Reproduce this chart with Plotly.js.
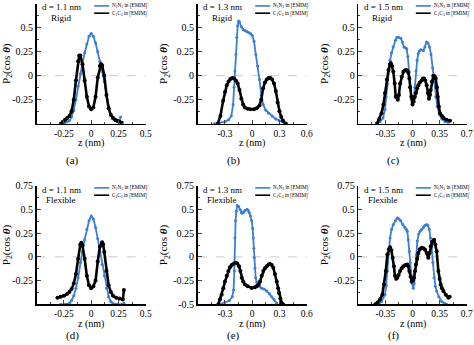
<!DOCTYPE html>
<html><head><meta charset="utf-8">
<script src="https://cdn.plot.ly/plotly-3.0.1.min.js"></script>
<style>html,body{margin:0;padding:0;background:#fff}#plot{width:474px;height:345px}</style>
</head><body><div id="plot"></div>
<script>
// ---- data (z in nm, P2(cos theta)) ----
const A_N_x=[-0.26,-0.24,-0.22,-0.2,-0.18,-0.16,-0.14,-0.12,-0.1,-0.08,-0.06,-0.04,-0.02,0,0.02,0.04,0.06,0.08,0.1,0.12,0.14,0.16,0.18,0.2,0.22,0.24,0.26,0.27];
const A_N_y=[-0.5,-0.49,-0.48,-0.47,-0.43,-0.36,-0.25,-0.11,0.02,0.13,0.24,0.33,0.41,0.44,0.41,0.34,0.25,0.15,0.05,-0.06,-0.2,-0.32,-0.4,-0.45,-0.47,-0.48,-0.47,-0.43];
const A_C_x=[-0.28,-0.26,-0.24,-0.22,-0.2,-0.18,-0.16,-0.14,-0.12,-0.11,-0.1,-0.08,-0.06,-0.04,-0.02,0,0.02,0.04,0.06,0.08,0.09,0.1,0.12,0.14,0.16,0.18,0.2,0.22,0.24,0.26,0.28];
const A_C_y=[-0.5,-0.48,-0.46,-0.44,-0.42,-0.37,-0.25,-0.05,0.15,0.21,0.21,0.12,-0.05,-0.22,-0.32,-0.35,-0.33,-0.22,-0.02,0.1,0.12,0.11,0.0,-0.2,-0.34,-0.41,-0.44,-0.46,-0.47,-0.48,-0.49];

const B_N_x=[-0.42,-0.36,-0.3,-0.26,-0.23,-0.21,-0.2,-0.19,-0.18,-0.17,-0.16,-0.15,-0.14,-0.12,-0.1,-0.08,-0.06,-0.04,-0.02,0,0.02,0.04,0.06,0.08,0.1,0.12,0.15,0.18,0.22,0.26,0.3,0.35,0.38];
const B_N_y=[-0.5,-0.49,-0.48,-0.46,-0.42,-0.3,-0.12,0.05,0.22,0.4,0.52,0.57,0.56,0.51,0.48,0.47,0.46,0.45,0.44,0.42,0.36,0.22,0.1,-0.04,-0.2,-0.3,-0.36,-0.39,-0.42,-0.45,-0.47,-0.49,-0.5];
const B_C_x=[-0.38,-0.35,-0.32,-0.3,-0.28,-0.26,-0.24,-0.22,-0.2,-0.18,-0.16,-0.14,-0.12,-0.1,-0.08,-0.05,-0.02,0.02,0.05,0.08,0.1,0.12,0.14,0.16,0.18,0.2,0.22,0.24,0.26,0.28,0.3,0.32,0.34,0.37];
const B_C_y=[-0.5,-0.42,-0.26,-0.17,-0.1,-0.06,-0.035,-0.025,-0.03,-0.05,-0.08,-0.15,-0.24,-0.3,-0.33,-0.345,-0.35,-0.35,-0.34,-0.31,-0.25,-0.13,-0.07,-0.04,-0.025,-0.025,-0.04,-0.08,-0.16,-0.28,-0.37,-0.43,-0.47,-0.5];

const C_N_x=[-0.46,-0.42,-0.38,-0.355,-0.34,-0.325,-0.31,-0.29,-0.27,-0.25,-0.22,-0.2,-0.18,-0.15,-0.13,-0.11,-0.09,-0.075,-0.06,-0.045,-0.03,-0.015,0,0.015,0.03,0.045,0.06,0.075,0.09,0.11,0.14,0.16,0.18,0.2,0.22,0.24,0.26,0.28,0.3,0.32,0.35,0.38,0.42,0.46];
const C_N_y=[-0.5,-0.48,-0.44,-0.35,-0.22,-0.08,0.05,0.16,0.24,0.3,0.37,0.4,0.4,0.39,0.35,0.3,0.29,0.28,0.2,0.05,-0.12,-0.24,-0.29,-0.24,-0.12,0.05,0.16,0.23,0.26,0.27,0.26,0.3,0.35,0.34,0.3,0.22,0.08,-0.06,-0.22,-0.32,-0.41,-0.45,-0.48,-0.49];
const C_C_x=[-0.46,-0.43,-0.4,-0.375,-0.355,-0.33,-0.31,-0.29,-0.28,-0.265,-0.248,-0.23,-0.217,-0.19,-0.175,-0.16,-0.14,-0.118,-0.1,-0.084,-0.07,-0.054,-0.04,-0.032,-0.015,0,0.015,0.03,0.045,0.06,0.075,0.095,0.118,0.135,0.15,0.165,0.183,0.2,0.213,0.225,0.235,0.25,0.269,0.285,0.3,0.315,0.326,0.34,0.355,0.38,0.4,0.44,0.485];
const C_C_y=[-0.5,-0.45,-0.39,-0.3,-0.18,-0.04,0.06,0.12,0.13,0.1,0.04,-0.08,-0.22,-0.25,-0.2,-0.08,-0.01,0.04,0.055,0.06,0.055,0.03,-0.03,-0.12,-0.22,-0.3,-0.27,-0.22,-0.18,-0.13,-0.1,-0.07,-0.05,-0.03,-0.03,-0.05,-0.1,-0.18,-0.24,-0.2,-0.15,-0.06,0.0,-0.005,-0.03,-0.12,-0.22,-0.32,-0.39,-0.42,-0.44,-0.46,-0.47];

const D_N_x=[-0.28,-0.24,-0.2,-0.18,-0.16,-0.14,-0.12,-0.1,-0.08,-0.06,-0.04,-0.02,0,0.02,0.04,0.06,0.08,0.1,0.12,0.14,0.16,0.18,0.2,0.24,0.28,0.3];
const D_N_y=[-0.5,-0.5,-0.49,-0.46,-0.41,-0.33,-0.22,-0.06,0.06,0.18,0.29,0.38,0.43,0.4,0.31,0.19,0.05,-0.08,-0.2,-0.33,-0.42,-0.47,-0.49,-0.5,-0.5,-0.49];
const D_C_x=[-0.31,-0.28,-0.25,-0.22,-0.2,-0.18,-0.16,-0.14,-0.12,-0.1,-0.09,-0.08,-0.06,-0.04,-0.02,0,0.02,0.04,0.06,0.08,0.1,0.11,0.12,0.14,0.16,0.18,0.2,0.23,0.26,0.29,0.3];
const D_C_y=[-0.43,-0.42,-0.41,-0.39,-0.37,-0.34,-0.28,-0.18,-0.02,0.13,0.15,0.12,-0.02,-0.2,-0.3,-0.33,-0.31,-0.25,-0.05,0.11,0.155,0.13,0.05,-0.15,-0.3,-0.37,-0.41,-0.43,-0.44,-0.45,-0.35];

const E_N_x=[-0.36,-0.3,-0.25,-0.22,-0.205,-0.197,-0.19,-0.183,-0.175,-0.164,-0.15,-0.134,-0.12,-0.109,-0.095,-0.079,-0.057,-0.045,-0.032,-0.018,-0.006,0.005,0.012,0.018,0.023,0.03,0.038,0.05,0.06,0.08,0.104,0.13,0.16,0.19,0.215,0.24,0.27];
const E_N_y=[-0.5,-0.48,-0.46,-0.42,-0.35,-0.15,0.2,0.38,0.48,0.54,0.53,0.5,0.47,0.46,0.47,0.49,0.5,0.49,0.465,0.43,0.38,0.3,0.2,0.09,-0.01,-0.12,-0.22,-0.27,-0.29,-0.31,-0.33,-0.34,-0.36,-0.39,-0.42,-0.45,-0.49];
const E_C_x=[-0.373,-0.355,-0.336,-0.318,-0.3,-0.28,-0.263,-0.245,-0.226,-0.2,-0.182,-0.164,-0.145,-0.13,-0.116,-0.1,-0.079,-0.05,-0.006,0.03,0.05,0.07,0.086,0.105,0.122,0.14,0.16,0.18,0.196,0.215,0.232,0.25,0.27,0.285,0.295,0.31,0.325,0.34];
const E_C_y=[-0.5,-0.45,-0.4,-0.33,-0.26,-0.2,-0.15,-0.11,-0.087,-0.07,-0.063,-0.07,-0.1,-0.15,-0.22,-0.26,-0.29,-0.31,-0.328,-0.32,-0.31,-0.29,-0.26,-0.2,-0.15,-0.12,-0.1,-0.08,-0.074,-0.085,-0.116,-0.18,-0.26,-0.33,-0.38,-0.44,-0.49,-0.5];

const F_N_x=[-0.47,-0.44,-0.4,-0.355,-0.34,-0.325,-0.31,-0.29,-0.27,-0.248,-0.22,-0.196,-0.175,-0.152,-0.125,-0.097,-0.08,-0.067,-0.055,-0.041,-0.03,-0.019,-0.005,0.01,0.022,0.036,0.05,0.062,0.08,0.097,0.12,0.14,0.16,0.183,0.2,0.217,0.233,0.248,0.263,0.278,0.295,0.312,0.34,0.377,0.41,0.44];
const F_N_y=[-0.5,-0.5,-0.47,-0.4,-0.3,-0.15,0.03,0.2,0.29,0.34,0.38,0.41,0.4,0.38,0.34,0.31,0.29,0.27,0.18,0.06,-0.06,-0.19,-0.28,-0.33,-0.28,-0.15,0.02,0.166,0.24,0.27,0.29,0.31,0.33,0.34,0.33,0.29,0.2,0.095,-0.06,-0.22,-0.31,-0.36,-0.42,-0.47,-0.49,-0.5];
const F_C_x=[-0.48,-0.45,-0.42,-0.39,-0.368,-0.345,-0.325,-0.305,-0.29,-0.273,-0.256,-0.24,-0.226,-0.21,-0.196,-0.18,-0.161,-0.14,-0.119,-0.09,-0.067,-0.055,-0.041,-0.025,-0.01,0.005,0.019,0.032,0.045,0.06,0.075,0.095,0.119,0.14,0.161,0.183,0.204,0.22,0.235,0.255,0.278,0.295,0.312,0.334,0.35,0.364,0.38,0.398,0.43,0.463,0.48];
const F_C_y=[-0.5,-0.48,-0.45,-0.4,-0.29,-0.15,0.025,0.08,0.1,0.07,-0.01,-0.1,-0.2,-0.23,-0.22,-0.19,-0.15,-0.12,-0.1,-0.085,-0.08,-0.1,-0.15,-0.21,-0.26,-0.25,-0.22,-0.15,-0.08,-0.02,0.04,0.08,0.095,0.09,0.077,0.04,-0.01,0.04,0.112,0.16,0.18,0.13,0.06,-0.15,-0.23,-0.29,-0.33,-0.36,-0.4,-0.43,-0.42];

// axis ticks / labels
const yTickVals=[-0.5,-0.25,0,0.25,0.5,0.75];
const yTickText=["-0.5","-0.25","0","0.25","0.5","0.75"];
const xTicksA=[-0.25,0,0.25,0.5],   xTextA=["-0.25","0","0.25","0.5"];
const xTicksB=[-0.3,0,0.3,0.6],     xTextB=["-0.3","0","0.3","0.6"];
const xTicksC=[-0.35,0,0.35,0.7],   xTextC=["-0.35","0","0.35","0.7"];
const panelLabels=["(a)","(b)","(c)","(d)","(e)","(f)"];
const dLabels=["d = 1.1 nm","d = 1.3 nm","d = 1.5 nm","d = 1.1 nm","d = 1.3 nm","d = 1.5 nm"];
const modelLabels=["Rigid","Rigid","Rigid","Flexible","Flexible","Flexible"];
const seriesNames=["N<sub>1</sub>N<sub>3</sub> in [EMIM]<sup>+</sup>","C<sub>1</sub>C<sub>3</sub> in [EMIM]<sup>+</sup>"];
const xTitle="z (nm)";
const yTitle="P<sub>2</sub>(cos <b><i>θ</i></b>)";

// ---- layout helpers ----
const W=474,H=345;
const BLUE="#3b7ed6", BLACK="#000000";
const FONT="Liberation Serif, Times New Roman, serif";
const colPx=[[36.7,145.7],[197.7,306.7],[358.3,466.7]];
const rowPx=[[3.7,123.7],[185.7,304.3]];
const panels=[
 {N:[A_N_x,A_N_y],C:[A_C_x,A_C_y],r:0,c:0,xr:[-0.5,0.5],xt:xTicksA,xtt:xTextA,minor:0.125,showMinY:false},
 {N:[B_N_x,B_N_y],C:[B_C_x,B_C_y],r:0,c:1,xr:[-0.6,0.6],xt:xTicksB,xtt:xTextB,minor:0.15,showMinY:false},
 {N:[C_N_x,C_N_y],C:[C_C_x,C_C_y],r:0,c:2,xr:[-0.7,0.7],xt:xTicksC,xtt:xTextC,minor:0.175,showMinY:false},
 {N:[D_N_x,D_N_y],C:[D_C_x,D_C_y],r:1,c:0,xr:[-0.5,0.5],xt:xTicksA,xtt:xTextA,minor:0.125,showMinY:false},
 {N:[E_N_x,E_N_y],C:[E_C_x,E_C_y],r:1,c:1,xr:[-0.6,0.6],xt:xTicksB,xtt:xTextB,minor:0.15,showMinY:true},
 {N:[F_N_x,F_N_y],C:[F_C_x,F_C_y],r:1,c:2,xr:[-0.7,0.7],xt:xTicksC,xtt:xTextC,minor:0.175,showMinY:false}
];
const traces=[], layout={width:W,height:H,margin:{l:0,r:0,t:0,b:0},paper_bgcolor:"#fff",plot_bgcolor:"rgba(0,0,0,0)",showlegend:false,font:{family:FONT,size:10,color:"#000"},annotations:[],shapes:[]};
const px=(v)=>v/W, py=(v)=>1-v/H;

panels.forEach((p,i)=>{
  const n=i===0?"":String(i+1);
  const xa="x"+n, ya="y"+n;
  const cp=colPx[p.c], rp=rowPx[p.r];
  const yv=p.showMinY?yTickVals:yTickVals.slice(1), yt=p.showMinY?yTickText:yTickText.slice(1);
  layout["xaxis"+n]={domain:[px(cp[0]),px(cp[1])],anchor:ya,range:p.xr,showgrid:false,zeroline:false,showline:true,linewidth:1.6,linecolor:"#000",
    ticks:"inside",ticklen:4,tickwidth:1,tickmode:"array",tickvals:p.xt,ticktext:p.xtt,tickfont:{size:9.5,family:FONT},
    minor:{dtick:p.minor,tick0:0,ticks:"inside",ticklen:2,tickwidth:1}};
  layout["yaxis"+n]={domain:[py(rp[1]),py(rp[0])],anchor:xa,range:[-0.5,0.75],showgrid:false,zeroline:false,showline:true,linewidth:1.6,linecolor:"#000",
    ticks:"inside",ticklen:4,tickwidth:1,tickmode:"array",tickvals:yv,ticktext:yt,tickfont:{size:10,family:FONT},
    minor:{dtick:0.125,tick0:0,ticks:"inside",ticklen:2,tickwidth:1},
    title:{text:yTitle,font:{size:11,family:FONT},standoff:3}};
  // zero reference line
  layout.shapes.push({type:"line",xref:xa+" domain",yref:ya,x0:0,x1:1,y0:0,y1:0,line:{color:"#c8c8c8",width:1,dash:"dash"},layer:"below"});
  traces.push({x:p.N[0],y:p.N[1],xaxis:xa,yaxis:ya,mode:"lines+markers",line:{color:BLUE,width:1.8},marker:{color:BLUE,size:3},name:"N1N3"});
  traces.push({x:p.C[0],y:p.C[1],xaxis:xa,yaxis:ya,mode:"lines+markers",line:{color:BLACK,width:2.6},marker:{color:BLACK,size:4},name:"C1C3"});
  const top=rp[0];
  // x-axis title
  layout.annotations.push({xref:"paper",yref:"paper",x:px((cp[0]+cp[1])/2),y:py(p.r===0?143:323.5),text:xTitle,showarrow:false,font:{size:10,family:FONT},xanchor:"center",yanchor:"middle",borderpad:0});
  // panel letter
  layout.annotations.push({xref:"paper",yref:"paper",x:px(cp[0]+35.3),y:py(p.r===0?160.5:335.5),text:panelLabels[i],showarrow:false,font:{size:11,family:FONT},xanchor:"center",yanchor:"middle",borderpad:0});
  // d label and model label
  layout.annotations.push({xref:"paper",yref:"paper",x:px(cp[0]+25),y:py(top+3.8),text:dLabels[i],showarrow:false,font:{size:9,family:FONT},xanchor:"center",yanchor:"middle"});
  layout.annotations.push({xref:"paper",yref:"paper",x:px(cp[0]+24.5),y:py(top+13.8),text:modelLabels[i],showarrow:false,font:{size:9,family:FONT},xanchor:"center",yanchor:"middle"});
  // legend (line samples + texts)
  [[BLUE,2.2],[BLACK,9.5]].forEach((s,k)=>{
    const ly=top+s[1];
    layout.shapes.push({type:"line",xref:"paper",yref:"paper",x0:px(cp[0]+57.5),x1:px(cp[0]+72.5),y0:py(ly),y1:py(ly),line:{color:s[0],width:1.6}});
    layout.annotations.push({xref:"paper",yref:"paper",x:px(cp[0]+73.5),y:py(ly),text:seriesNames[k],showarrow:false,font:{size:5.2,family:FONT},xanchor:"left",yanchor:"middle"});
  });
});
Plotly.newPlot("plot",traces,layout,{staticPlot:true,displayModeBar:false});
</script></body></html>
